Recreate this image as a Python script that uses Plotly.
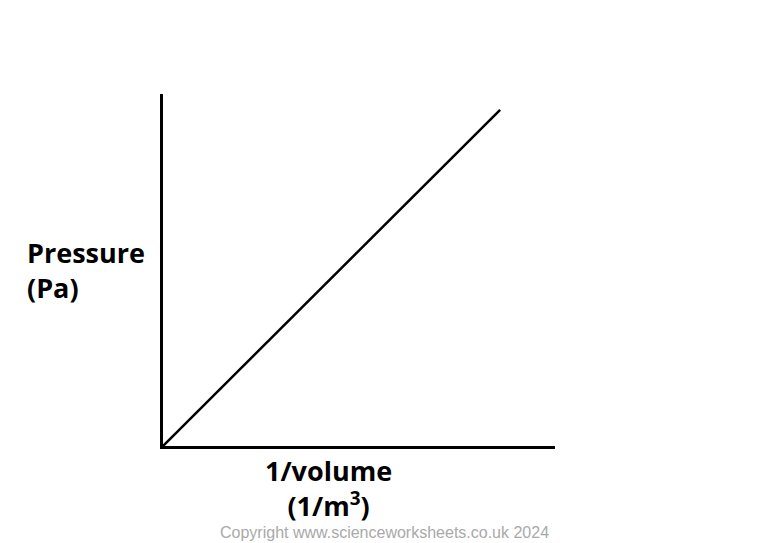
import plotly.graph_objects as go

# Pressure vs 1/volume: a straight line through the origin
inv_volume = [0, 8.6]
pressure = [0, 9.55]

x_label = '<b>1/volume<br>(1/m<sup>3</sup>)</b>'
y_label = '<b>Pressure<br>(Pa)</b>'
credit = 'Copyright www.scienceworksheets.co.uk 2024'

fig = go.Figure()

fig.add_trace(go.Scatter(
    x=inv_volume,
    y=pressure,
    mode='lines',
    line=dict(color='black', width=2.5),
    showlegend=False,
    hoverinfo='skip'
))

# the page body adds an 8px margin, so the figure is drawn 8px smaller
fig.update_layout(
    width=760,
    height=535,
    margin=dict(l=155, r=213, t=86, b=97),
    plot_bgcolor='white',
    paper_bgcolor='white',
    font=dict(family='Open Sans', color='black'),
    annotations=[
        dict(x=-0.352, y=0.50, xref='paper', yref='paper', text=y_label,
             showarrow=False, xanchor='left', yanchor='middle', align='left',
             font=dict(size=27, family='Open Sans', color='black')),
        dict(x=0.421, y=-0.12, xref='paper', yref='paper', text=x_label,
             showarrow=False, xanchor='center', yanchor='middle', align='center',
             font=dict(size=27, family='Open Sans', color='black')),
        dict(x=0.566, y=-0.246, xref='paper', yref='paper', text=credit,
             showarrow=False, xanchor='center', yanchor='middle',
             font=dict(size=16, family='Liberation Sans', color='#a9a9a9')),
    ],
)

fig.update_xaxes(range=[0, 10], showline=True, linecolor='black', linewidth=3,
                 showgrid=False, zeroline=False, showticklabels=False, ticks='')
fig.update_yaxes(range=[0, 10], showline=True, linecolor='black', linewidth=3,
                 showgrid=False, zeroline=False, showticklabels=False, ticks='')

fig.write_html("out.html")
